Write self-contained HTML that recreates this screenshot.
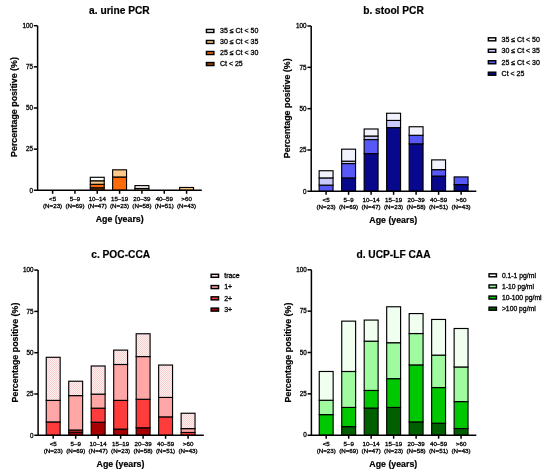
<!DOCTYPE html>
<html><head><meta charset="utf-8"><style>
html,body{margin:0;padding:0;background:#fff;width:550px;height:476px;overflow:hidden}
svg{display:block}
text{font-family:"Liberation Sans", sans-serif;fill:#000;stroke:#000;stroke-width:0.3px}
text.b{stroke-width:0.2px}
svg{filter:blur(0.3px)}
</style></head><body>
<svg width="550" height="476" viewBox="0 0 550 476">
<defs><pattern id="trace" patternUnits="userSpaceOnUse" width="2" height="2"><rect width="2" height="2" fill="#FEF0F0"/><rect width="1" height="1" fill="#F9D0D0"/><rect x="1" y="1" width="1" height="1" fill="#F9D0D0"/></pattern></defs>
<rect width="550" height="476" fill="#fff"/>
<rect x="90.31" y="187.80" width="13.90" height="2.50" fill="#9A4A08" stroke="#000" stroke-width="1.15"/>
<rect x="90.31" y="184.30" width="13.90" height="3.50" fill="#FF6A0A" stroke="#000" stroke-width="1.15"/>
<rect x="90.31" y="180.79" width="13.90" height="3.50" fill="#FFCB8A" stroke="#000" stroke-width="1.15"/>
<rect x="90.31" y="177.29" width="13.90" height="3.50" fill="#FFFFFF" stroke="#000" stroke-width="1.15"/>
<rect x="112.64" y="176.99" width="13.90" height="13.31" fill="#FF6A0A" stroke="#000" stroke-width="1.15"/>
<rect x="112.64" y="169.83" width="13.90" height="7.16" fill="#FFCB8A" stroke="#000" stroke-width="1.15"/>
<rect x="134.97" y="188.46" width="13.90" height="1.84" fill="#FFCB8A" stroke="#000" stroke-width="1.15"/>
<rect x="134.97" y="185.62" width="13.90" height="2.84" fill="#FFFFFF" stroke="#000" stroke-width="1.15"/>
<rect x="179.63" y="187.47" width="13.90" height="2.83" fill="#FFCB8A" stroke="#000" stroke-width="1.15"/>
<path d="M37.60,25.70 V190.30" stroke="#000" stroke-width="1.5" fill="none"/>
<path d="M33.80,190.30 H201.80" stroke="#000" stroke-width="1.5" fill="none"/>
<path d="M33.80,149.15 H37.60" stroke="#000" stroke-width="1.5"/>
<path d="M33.80,108.00 H37.60" stroke="#000" stroke-width="1.5"/>
<path d="M33.80,66.85 H37.60" stroke="#000" stroke-width="1.5"/>
<path d="M33.80,25.70 H37.60" stroke="#000" stroke-width="1.5"/>
<path d="M52.60,190.30 V193.80" stroke="#000" stroke-width="1.5"/>
<path d="M74.93,190.30 V193.80" stroke="#000" stroke-width="1.5"/>
<path d="M97.26,190.30 V193.80" stroke="#000" stroke-width="1.5"/>
<path d="M119.59,190.30 V193.80" stroke="#000" stroke-width="1.5"/>
<path d="M141.92,190.30 V193.80" stroke="#000" stroke-width="1.5"/>
<path d="M164.25,190.30 V193.80" stroke="#000" stroke-width="1.5"/>
<path d="M186.58,190.30 V193.80" stroke="#000" stroke-width="1.5"/>
<text x="33.00" y="192.50" text-anchor="end" font-size="6.3">0</text>
<text x="33.00" y="151.35" text-anchor="end" font-size="6.3">25</text>
<text x="33.00" y="110.20" text-anchor="end" font-size="6.3">50</text>
<text x="33.00" y="69.05" text-anchor="end" font-size="6.3">75</text>
<text x="33.00" y="27.90" text-anchor="end" font-size="6.3">100</text>
<text x="52.60" y="201.40" text-anchor="middle" font-size="6.2">&lt;5</text>
<text x="52.60" y="208.10" text-anchor="middle" font-size="6.2">(N=23)</text>
<text x="74.93" y="201.40" text-anchor="middle" font-size="6.2">5–9</text>
<text x="74.93" y="208.10" text-anchor="middle" font-size="6.2">(N=69)</text>
<text x="97.26" y="201.40" text-anchor="middle" font-size="6.2">10–14</text>
<text x="97.26" y="208.10" text-anchor="middle" font-size="6.2">(N=47)</text>
<text x="119.59" y="201.40" text-anchor="middle" font-size="6.2">15–19</text>
<text x="119.59" y="208.10" text-anchor="middle" font-size="6.2">(N=23)</text>
<text x="141.92" y="201.40" text-anchor="middle" font-size="6.2">20–39</text>
<text x="141.92" y="208.10" text-anchor="middle" font-size="6.2">(N=58)</text>
<text x="164.25" y="201.40" text-anchor="middle" font-size="6.2">40–59</text>
<text x="164.25" y="208.10" text-anchor="middle" font-size="6.2">(N=51)</text>
<text x="186.58" y="201.40" text-anchor="middle" font-size="6.2">&gt;60</text>
<text x="186.58" y="208.10" text-anchor="middle" font-size="6.2">(N=43)</text>
<text x="119.70" y="221.90" text-anchor="middle" font-size="8.8" font-weight="bold" class="b">Age (years)</text>
<text transform="translate(17.30,107.00) rotate(-90)" text-anchor="middle" font-size="8.85" font-weight="bold" class="b">Percentage positive (%)</text>
<text x="119.40" y="13.80" text-anchor="middle" font-size="10.2" font-weight="bold" class="b">a. urine PCR</text>
<rect x="206.45" y="29.45" width="7.4" height="3.0" fill="#FFFFFF" stroke="#000" stroke-width="1.45"/>
<text x="220.00" y="33.25" font-size="7">35 ≤ Ct &lt; 50</text>
<rect x="206.45" y="40.48" width="7.4" height="3.0" fill="#FFCB8A" stroke="#000" stroke-width="1.45"/>
<text x="220.00" y="44.28" font-size="7">30 ≤ Ct &lt; 35</text>
<rect x="206.45" y="51.51" width="7.4" height="3.0" fill="#FF6A0A" stroke="#000" stroke-width="1.45"/>
<text x="220.00" y="55.31" font-size="7">25 ≤ Ct &lt; 30</text>
<rect x="206.45" y="62.54" width="7.4" height="3.0" fill="#9A4A08" stroke="#000" stroke-width="1.45"/>
<text x="220.00" y="66.34" font-size="7">Ct &lt; 25</text>
<rect x="319.15" y="185.11" width="13.90" height="6.19" fill="#5858F8" stroke="#000" stroke-width="1.15"/>
<rect x="319.15" y="177.93" width="13.90" height="7.19" fill="#CACAF8" stroke="#000" stroke-width="1.15"/>
<rect x="319.15" y="170.74" width="13.90" height="7.19" fill="#F2F2FC" stroke="#000" stroke-width="1.15"/>
<rect x="341.65" y="177.93" width="13.90" height="13.37" fill="#08088C" stroke="#000" stroke-width="1.15"/>
<rect x="341.65" y="163.55" width="13.90" height="14.37" fill="#5858F8" stroke="#000" stroke-width="1.15"/>
<rect x="341.65" y="161.16" width="13.90" height="2.40" fill="#CACAF8" stroke="#000" stroke-width="1.15"/>
<rect x="341.65" y="149.18" width="13.90" height="11.98" fill="#F2F2FC" stroke="#000" stroke-width="1.15"/>
<rect x="364.15" y="153.61" width="13.90" height="37.69" fill="#08088C" stroke="#000" stroke-width="1.15"/>
<rect x="364.15" y="139.54" width="13.90" height="14.07" fill="#5858F8" stroke="#000" stroke-width="1.15"/>
<rect x="364.15" y="136.03" width="13.90" height="3.52" fill="#CACAF8" stroke="#000" stroke-width="1.15"/>
<rect x="364.15" y="128.99" width="13.90" height="7.03" fill="#F2F2FC" stroke="#000" stroke-width="1.15"/>
<rect x="386.65" y="127.62" width="13.90" height="63.68" fill="#08088C" stroke="#000" stroke-width="1.15"/>
<rect x="386.65" y="120.43" width="13.90" height="7.19" fill="#CACAF8" stroke="#000" stroke-width="1.15"/>
<rect x="386.65" y="113.24" width="13.90" height="7.19" fill="#F2F2FC" stroke="#000" stroke-width="1.15"/>
<rect x="409.15" y="143.85" width="13.90" height="47.45" fill="#08088C" stroke="#000" stroke-width="1.15"/>
<rect x="409.15" y="135.30" width="13.90" height="8.55" fill="#5858F8" stroke="#000" stroke-width="1.15"/>
<rect x="409.15" y="126.75" width="13.90" height="8.55" fill="#F2F2FC" stroke="#000" stroke-width="1.15"/>
<rect x="431.65" y="176.09" width="13.90" height="15.21" fill="#08088C" stroke="#000" stroke-width="1.15"/>
<rect x="431.65" y="169.61" width="13.90" height="6.48" fill="#5858F8" stroke="#000" stroke-width="1.15"/>
<rect x="431.65" y="159.89" width="13.90" height="9.72" fill="#F2F2FC" stroke="#000" stroke-width="1.15"/>
<rect x="454.15" y="184.61" width="13.90" height="6.69" fill="#08088C" stroke="#000" stroke-width="1.15"/>
<rect x="454.15" y="176.92" width="13.90" height="7.69" fill="#5858F8" stroke="#000" stroke-width="1.15"/>
<path d="M311.20,26.00 V191.30" stroke="#000" stroke-width="1.5" fill="none"/>
<path d="M307.40,191.30 H476.30" stroke="#000" stroke-width="1.5" fill="none"/>
<path d="M307.40,149.98 H311.20" stroke="#000" stroke-width="1.5"/>
<path d="M307.40,108.65 H311.20" stroke="#000" stroke-width="1.5"/>
<path d="M307.40,67.33 H311.20" stroke="#000" stroke-width="1.5"/>
<path d="M307.40,26.00 H311.20" stroke="#000" stroke-width="1.5"/>
<path d="M326.10,191.30 V194.80" stroke="#000" stroke-width="1.5"/>
<path d="M348.60,191.30 V194.80" stroke="#000" stroke-width="1.5"/>
<path d="M371.10,191.30 V194.80" stroke="#000" stroke-width="1.5"/>
<path d="M393.60,191.30 V194.80" stroke="#000" stroke-width="1.5"/>
<path d="M416.10,191.30 V194.80" stroke="#000" stroke-width="1.5"/>
<path d="M438.60,191.30 V194.80" stroke="#000" stroke-width="1.5"/>
<path d="M461.10,191.30 V194.80" stroke="#000" stroke-width="1.5"/>
<text x="306.60" y="193.50" text-anchor="end" font-size="6.3">0</text>
<text x="306.60" y="152.18" text-anchor="end" font-size="6.3">25</text>
<text x="306.60" y="110.85" text-anchor="end" font-size="6.3">50</text>
<text x="306.60" y="69.53" text-anchor="end" font-size="6.3">75</text>
<text x="306.60" y="28.20" text-anchor="end" font-size="6.3">100</text>
<text x="326.10" y="202.40" text-anchor="middle" font-size="6.2">&lt;5</text>
<text x="326.10" y="209.10" text-anchor="middle" font-size="6.2">(N=23)</text>
<text x="348.60" y="202.40" text-anchor="middle" font-size="6.2">5–9</text>
<text x="348.60" y="209.10" text-anchor="middle" font-size="6.2">(N=69)</text>
<text x="371.10" y="202.40" text-anchor="middle" font-size="6.2">10–14</text>
<text x="371.10" y="209.10" text-anchor="middle" font-size="6.2">(N=47)</text>
<text x="393.60" y="202.40" text-anchor="middle" font-size="6.2">15–19</text>
<text x="393.60" y="209.10" text-anchor="middle" font-size="6.2">(N=23)</text>
<text x="416.10" y="202.40" text-anchor="middle" font-size="6.2">20–39</text>
<text x="416.10" y="209.10" text-anchor="middle" font-size="6.2">(N=58)</text>
<text x="438.60" y="202.40" text-anchor="middle" font-size="6.2">40–59</text>
<text x="438.60" y="209.10" text-anchor="middle" font-size="6.2">(N=51)</text>
<text x="461.10" y="202.40" text-anchor="middle" font-size="6.2">&gt;60</text>
<text x="461.10" y="209.10" text-anchor="middle" font-size="6.2">(N=43)</text>
<text x="393.30" y="222.90" text-anchor="middle" font-size="8.8" font-weight="bold" class="b">Age (years)</text>
<text transform="translate(290.40,108.25) rotate(-90)" text-anchor="middle" font-size="8.85" font-weight="bold" class="b">Percentage positive (%)</text>
<text x="393.50" y="13.80" text-anchor="middle" font-size="10.2" font-weight="bold" class="b">b. stool PCR</text>
<rect x="488.35" y="37.80" width="7.4" height="3.0" fill="#F2F2FC" stroke="#000" stroke-width="1.45"/>
<text x="501.60" y="41.60" font-size="7">35 ≤ Ct &lt; 50</text>
<rect x="488.35" y="49.27" width="7.4" height="3.0" fill="#CACAF8" stroke="#000" stroke-width="1.45"/>
<text x="501.60" y="53.07" font-size="7">30 ≤ Ct &lt; 35</text>
<rect x="488.35" y="60.74" width="7.4" height="3.0" fill="#5858F8" stroke="#000" stroke-width="1.45"/>
<text x="501.60" y="64.54" font-size="7">25 ≤ Ct &lt; 30</text>
<rect x="488.35" y="72.21" width="7.4" height="3.0" fill="#08088C" stroke="#000" stroke-width="1.45"/>
<text x="501.60" y="76.01" font-size="7">Ct &lt; 25</text>
<rect x="46.25" y="421.93" width="13.90" height="13.37" fill="#FF3C3C" stroke="#000" stroke-width="1.15"/>
<rect x="46.25" y="400.39" width="13.90" height="21.55" fill="#FFA6A6" stroke="#000" stroke-width="1.15"/>
<rect x="46.25" y="357.29" width="13.90" height="43.10" fill="url(#trace)" stroke="#000" stroke-width="1.15"/>
<rect x="68.73" y="432.17" width="13.90" height="3.13" fill="#A80000" stroke="#000" stroke-width="1.15"/>
<rect x="68.73" y="430.02" width="13.90" height="2.15" fill="#FF3C3C" stroke="#000" stroke-width="1.15"/>
<rect x="68.73" y="395.60" width="13.90" height="34.42" fill="#FFA6A6" stroke="#000" stroke-width="1.15"/>
<rect x="68.73" y="381.23" width="13.90" height="14.37" fill="url(#trace)" stroke="#000" stroke-width="1.15"/>
<rect x="91.21" y="422.24" width="13.90" height="13.06" fill="#A80000" stroke="#000" stroke-width="1.15"/>
<rect x="91.21" y="408.18" width="13.90" height="14.06" fill="#FF3C3C" stroke="#000" stroke-width="1.15"/>
<rect x="91.21" y="394.12" width="13.90" height="14.06" fill="#FFA6A6" stroke="#000" stroke-width="1.15"/>
<rect x="91.21" y="366.00" width="13.90" height="28.12" fill="url(#trace)" stroke="#000" stroke-width="1.15"/>
<rect x="113.69" y="429.12" width="13.90" height="6.18" fill="#A80000" stroke="#000" stroke-width="1.15"/>
<rect x="113.69" y="400.39" width="13.90" height="28.73" fill="#FF3C3C" stroke="#000" stroke-width="1.15"/>
<rect x="113.69" y="364.47" width="13.90" height="35.91" fill="#FFA6A6" stroke="#000" stroke-width="1.15"/>
<rect x="113.69" y="350.11" width="13.90" height="14.37" fill="url(#trace)" stroke="#000" stroke-width="1.15"/>
<rect x="136.17" y="427.76" width="13.90" height="7.54" fill="#A80000" stroke="#000" stroke-width="1.15"/>
<rect x="136.17" y="399.27" width="13.90" height="28.48" fill="#FF3C3C" stroke="#000" stroke-width="1.15"/>
<rect x="136.17" y="356.55" width="13.90" height="42.72" fill="#FFA6A6" stroke="#000" stroke-width="1.15"/>
<rect x="136.17" y="333.76" width="13.90" height="22.79" fill="url(#trace)" stroke="#000" stroke-width="1.15"/>
<rect x="158.65" y="416.86" width="13.90" height="18.44" fill="#FF3C3C" stroke="#000" stroke-width="1.15"/>
<rect x="158.65" y="397.43" width="13.90" height="19.44" fill="#FFA6A6" stroke="#000" stroke-width="1.15"/>
<rect x="158.65" y="365.04" width="13.90" height="32.39" fill="url(#trace)" stroke="#000" stroke-width="1.15"/>
<rect x="181.13" y="432.46" width="13.90" height="2.84" fill="#FF3C3C" stroke="#000" stroke-width="1.15"/>
<rect x="181.13" y="428.62" width="13.90" height="3.84" fill="#FFA6A6" stroke="#000" stroke-width="1.15"/>
<rect x="181.13" y="413.25" width="13.90" height="15.37" fill="url(#trace)" stroke="#000" stroke-width="1.15"/>
<path d="M38.10,270.10 V435.30" stroke="#000" stroke-width="1.5" fill="none"/>
<path d="M34.30,435.30 H203.80" stroke="#000" stroke-width="1.5" fill="none"/>
<path d="M34.30,394.00 H38.10" stroke="#000" stroke-width="1.5"/>
<path d="M34.30,352.70 H38.10" stroke="#000" stroke-width="1.5"/>
<path d="M34.30,311.40 H38.10" stroke="#000" stroke-width="1.5"/>
<path d="M34.30,270.10 H38.10" stroke="#000" stroke-width="1.5"/>
<path d="M53.20,435.30 V438.80" stroke="#000" stroke-width="1.5"/>
<path d="M75.68,435.30 V438.80" stroke="#000" stroke-width="1.5"/>
<path d="M98.16,435.30 V438.80" stroke="#000" stroke-width="1.5"/>
<path d="M120.64,435.30 V438.80" stroke="#000" stroke-width="1.5"/>
<path d="M143.12,435.30 V438.80" stroke="#000" stroke-width="1.5"/>
<path d="M165.60,435.30 V438.80" stroke="#000" stroke-width="1.5"/>
<path d="M188.08,435.30 V438.80" stroke="#000" stroke-width="1.5"/>
<text x="33.50" y="437.50" text-anchor="end" font-size="6.3">0</text>
<text x="33.50" y="396.20" text-anchor="end" font-size="6.3">25</text>
<text x="33.50" y="354.90" text-anchor="end" font-size="6.3">50</text>
<text x="33.50" y="313.60" text-anchor="end" font-size="6.3">75</text>
<text x="33.50" y="272.30" text-anchor="end" font-size="6.3">100</text>
<text x="53.20" y="446.40" text-anchor="middle" font-size="6.2">&lt;5</text>
<text x="53.20" y="453.10" text-anchor="middle" font-size="6.2">(N=23)</text>
<text x="75.68" y="446.40" text-anchor="middle" font-size="6.2">5–9</text>
<text x="75.68" y="453.10" text-anchor="middle" font-size="6.2">(N=69)</text>
<text x="98.16" y="446.40" text-anchor="middle" font-size="6.2">10–14</text>
<text x="98.16" y="453.10" text-anchor="middle" font-size="6.2">(N=47)</text>
<text x="120.64" y="446.40" text-anchor="middle" font-size="6.2">15–19</text>
<text x="120.64" y="453.10" text-anchor="middle" font-size="6.2">(N=23)</text>
<text x="143.12" y="446.40" text-anchor="middle" font-size="6.2">20–39</text>
<text x="143.12" y="453.10" text-anchor="middle" font-size="6.2">(N=58)</text>
<text x="165.60" y="446.40" text-anchor="middle" font-size="6.2">40–59</text>
<text x="165.60" y="453.10" text-anchor="middle" font-size="6.2">(N=51)</text>
<text x="188.08" y="446.40" text-anchor="middle" font-size="6.2">&gt;60</text>
<text x="188.08" y="453.10" text-anchor="middle" font-size="6.2">(N=43)</text>
<text x="120.50" y="466.90" text-anchor="middle" font-size="8.8" font-weight="bold" class="b">Age (years)</text>
<text transform="translate(17.90,352.50) rotate(-90)" text-anchor="middle" font-size="8.85" font-weight="bold" class="b">Percentage positive (%)</text>
<text x="120.70" y="258.20" text-anchor="middle" font-size="10.2" font-weight="bold" class="b">c. POC-CCA</text>
<rect x="211.15" y="274.30" width="7.4" height="3.0" fill="url(#trace)" stroke="#000" stroke-width="1.45"/>
<text x="224.20" y="278.10" font-size="7">trace</text>
<rect x="211.15" y="285.57" width="7.4" height="3.0" fill="#FFA6A6" stroke="#000" stroke-width="1.45"/>
<text x="224.20" y="289.37" font-size="7">1+</text>
<rect x="211.15" y="296.84" width="7.4" height="3.0" fill="#FF3C3C" stroke="#000" stroke-width="1.45"/>
<text x="224.20" y="300.64" font-size="7">2+</text>
<rect x="211.15" y="308.11" width="7.4" height="3.0" fill="#A80000" stroke="#000" stroke-width="1.45"/>
<text x="224.20" y="311.91" font-size="7">3+</text>
<rect x="319.25" y="414.63" width="13.90" height="20.57" fill="#00C800" stroke="#000" stroke-width="1.15"/>
<rect x="319.25" y="400.24" width="13.90" height="14.38" fill="#A0FAA0" stroke="#000" stroke-width="1.15"/>
<rect x="319.25" y="371.48" width="13.90" height="28.77" fill="#F0FFF0" stroke="#000" stroke-width="1.15"/>
<rect x="341.73" y="426.61" width="13.90" height="8.59" fill="#006000" stroke="#000" stroke-width="1.15"/>
<rect x="341.73" y="407.43" width="13.90" height="19.18" fill="#00C800" stroke="#000" stroke-width="1.15"/>
<rect x="341.73" y="371.48" width="13.90" height="35.96" fill="#A0FAA0" stroke="#000" stroke-width="1.15"/>
<rect x="341.73" y="321.14" width="13.90" height="50.34" fill="#F0FFF0" stroke="#000" stroke-width="1.15"/>
<rect x="364.21" y="408.05" width="13.90" height="27.15" fill="#006000" stroke="#000" stroke-width="1.15"/>
<rect x="364.21" y="390.45" width="13.90" height="17.60" fill="#00C800" stroke="#000" stroke-width="1.15"/>
<rect x="364.21" y="341.18" width="13.90" height="49.27" fill="#A0FAA0" stroke="#000" stroke-width="1.15"/>
<rect x="364.21" y="320.07" width="13.90" height="21.11" fill="#F0FFF0" stroke="#000" stroke-width="1.15"/>
<rect x="386.69" y="407.43" width="13.90" height="27.77" fill="#006000" stroke="#000" stroke-width="1.15"/>
<rect x="386.69" y="378.67" width="13.90" height="28.77" fill="#00C800" stroke="#000" stroke-width="1.15"/>
<rect x="386.69" y="342.71" width="13.90" height="35.96" fill="#A0FAA0" stroke="#000" stroke-width="1.15"/>
<rect x="386.69" y="306.76" width="13.90" height="35.96" fill="#F0FFF0" stroke="#000" stroke-width="1.15"/>
<rect x="409.17" y="421.94" width="13.90" height="13.26" fill="#006000" stroke="#000" stroke-width="1.15"/>
<rect x="409.17" y="364.91" width="13.90" height="57.03" fill="#00C800" stroke="#000" stroke-width="1.15"/>
<rect x="409.17" y="333.54" width="13.90" height="31.37" fill="#A0FAA0" stroke="#000" stroke-width="1.15"/>
<rect x="409.17" y="313.58" width="13.90" height="19.96" fill="#F0FFF0" stroke="#000" stroke-width="1.15"/>
<rect x="431.65" y="423.23" width="13.90" height="11.97" fill="#006000" stroke="#000" stroke-width="1.15"/>
<rect x="431.65" y="387.55" width="13.90" height="35.67" fill="#00C800" stroke="#000" stroke-width="1.15"/>
<rect x="431.65" y="355.12" width="13.90" height="32.43" fill="#A0FAA0" stroke="#000" stroke-width="1.15"/>
<rect x="431.65" y="319.45" width="13.90" height="35.67" fill="#F0FFF0" stroke="#000" stroke-width="1.15"/>
<rect x="454.13" y="428.51" width="13.90" height="6.69" fill="#006000" stroke="#000" stroke-width="1.15"/>
<rect x="454.13" y="401.58" width="13.90" height="26.93" fill="#00C800" stroke="#000" stroke-width="1.15"/>
<rect x="454.13" y="366.96" width="13.90" height="34.62" fill="#A0FAA0" stroke="#000" stroke-width="1.15"/>
<rect x="454.13" y="328.50" width="13.90" height="38.47" fill="#F0FFF0" stroke="#000" stroke-width="1.15"/>
<path d="M311.40,269.80 V435.20" stroke="#000" stroke-width="1.5" fill="none"/>
<path d="M307.60,435.20 H476.30" stroke="#000" stroke-width="1.5" fill="none"/>
<path d="M307.60,393.85 H311.40" stroke="#000" stroke-width="1.5"/>
<path d="M307.60,352.50 H311.40" stroke="#000" stroke-width="1.5"/>
<path d="M307.60,311.15 H311.40" stroke="#000" stroke-width="1.5"/>
<path d="M307.60,269.80 H311.40" stroke="#000" stroke-width="1.5"/>
<path d="M326.20,435.20 V438.70" stroke="#000" stroke-width="1.5"/>
<path d="M348.68,435.20 V438.70" stroke="#000" stroke-width="1.5"/>
<path d="M371.16,435.20 V438.70" stroke="#000" stroke-width="1.5"/>
<path d="M393.64,435.20 V438.70" stroke="#000" stroke-width="1.5"/>
<path d="M416.12,435.20 V438.70" stroke="#000" stroke-width="1.5"/>
<path d="M438.60,435.20 V438.70" stroke="#000" stroke-width="1.5"/>
<path d="M461.08,435.20 V438.70" stroke="#000" stroke-width="1.5"/>
<text x="306.80" y="437.40" text-anchor="end" font-size="6.3">0</text>
<text x="306.80" y="396.05" text-anchor="end" font-size="6.3">25</text>
<text x="306.80" y="354.70" text-anchor="end" font-size="6.3">50</text>
<text x="306.80" y="313.35" text-anchor="end" font-size="6.3">75</text>
<text x="306.80" y="272.00" text-anchor="end" font-size="6.3">100</text>
<text x="326.20" y="446.30" text-anchor="middle" font-size="6.2">&lt;5</text>
<text x="326.20" y="453.00" text-anchor="middle" font-size="6.2">(N=23)</text>
<text x="348.68" y="446.30" text-anchor="middle" font-size="6.2">5–9</text>
<text x="348.68" y="453.00" text-anchor="middle" font-size="6.2">(N=69)</text>
<text x="371.16" y="446.30" text-anchor="middle" font-size="6.2">10–14</text>
<text x="371.16" y="453.00" text-anchor="middle" font-size="6.2">(N=47)</text>
<text x="393.64" y="446.30" text-anchor="middle" font-size="6.2">15–19</text>
<text x="393.64" y="453.00" text-anchor="middle" font-size="6.2">(N=23)</text>
<text x="416.12" y="446.30" text-anchor="middle" font-size="6.2">20–39</text>
<text x="416.12" y="453.00" text-anchor="middle" font-size="6.2">(N=58)</text>
<text x="438.60" y="446.30" text-anchor="middle" font-size="6.2">40–59</text>
<text x="438.60" y="453.00" text-anchor="middle" font-size="6.2">(N=51)</text>
<text x="461.08" y="446.30" text-anchor="middle" font-size="6.2">&gt;60</text>
<text x="461.08" y="453.00" text-anchor="middle" font-size="6.2">(N=43)</text>
<text x="393.30" y="466.80" text-anchor="middle" font-size="8.8" font-weight="bold" class="b">Age (years)</text>
<text transform="translate(290.60,352.50) rotate(-90)" text-anchor="middle" font-size="8.85" font-weight="bold" class="b">Percentage positive (%)</text>
<text x="393.50" y="258.20" text-anchor="middle" font-size="10.2" font-weight="bold" class="b">d. UCP-LF CAA</text>
<rect x="489.05" y="273.80" width="7.4" height="3.0" fill="#F0FFF0" stroke="#000" stroke-width="1.45"/>
<text x="501.90" y="277.60" font-size="6.8">0.1-1 pg/ml</text>
<rect x="489.05" y="284.93" width="7.4" height="3.0" fill="#A0FAA0" stroke="#000" stroke-width="1.45"/>
<text x="501.90" y="288.73" font-size="6.8">1-10 pg/ml</text>
<rect x="489.05" y="296.06" width="7.4" height="3.0" fill="#00C800" stroke="#000" stroke-width="1.45"/>
<text x="501.90" y="299.86" font-size="6.8">10-100 pg/ml</text>
<rect x="489.05" y="307.19" width="7.4" height="3.0" fill="#006000" stroke="#000" stroke-width="1.45"/>
<text x="501.90" y="310.99" font-size="6.8">&gt;100 pg/ml</text>
</svg>
</body></html>
